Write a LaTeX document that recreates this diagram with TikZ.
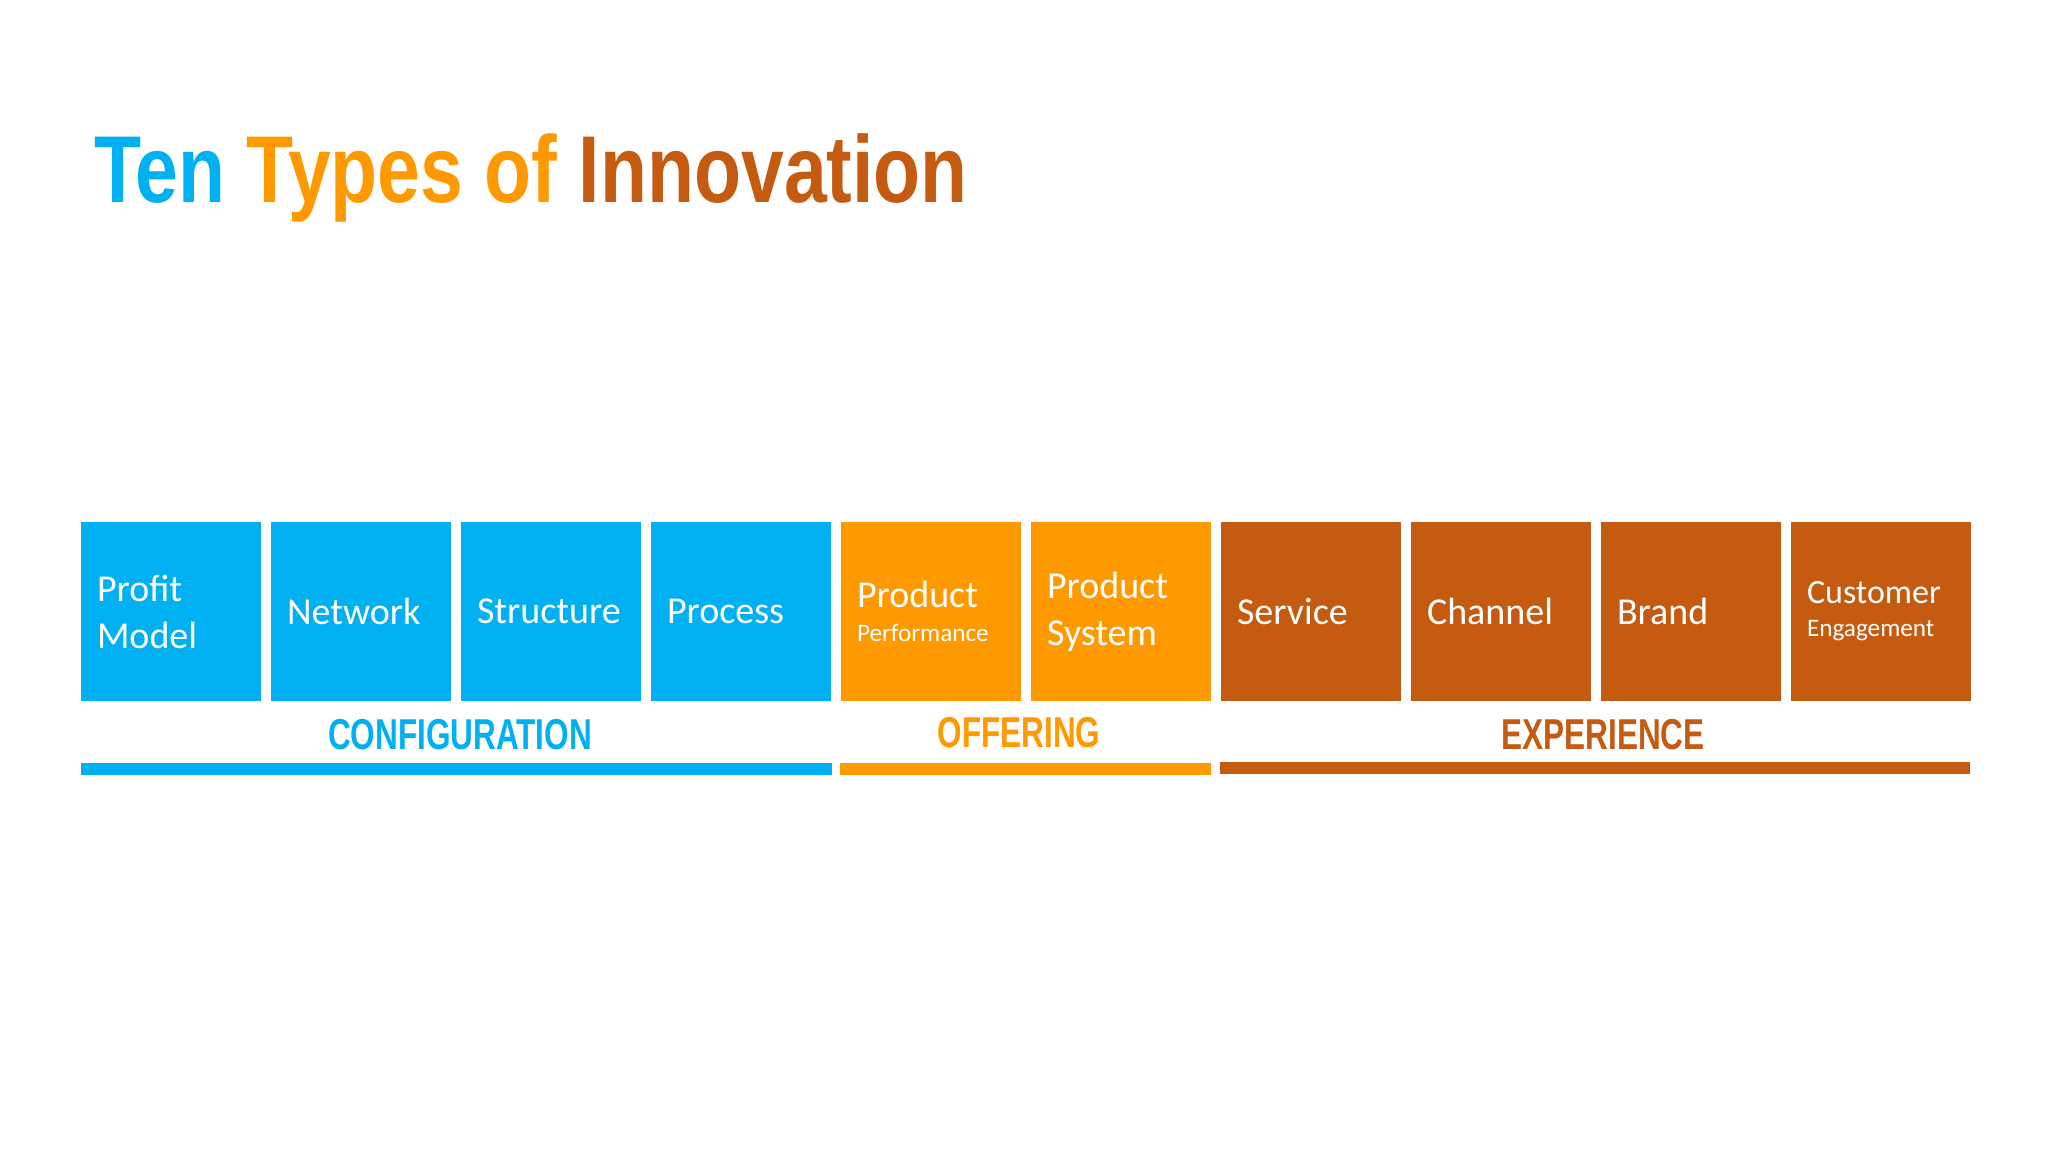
\documentclass[tikz,border=0pt]{standalone}
\usepackage{fontspec}
\setmainfont{Carlito}
\newfontfamily\headfont[FakeStretch=0.81]{Liberation Sans}
\newfontfamily\groupfont[FakeStretch=0.73]{Liberation Sans}

\definecolor{cfgblue}{HTML}{00B0F0}
\definecolor{offorange}{HTML}{FF9900}
\definecolor{expbrown}{HTML}{C55A11}

\tikzset{
  typebox/.style={minimum width=90pt, minimum height=89.5pt, text width=74pt,
    inner xsep=8pt, inner ysep=0pt, align=left, text=white,
    font=\fontsize{19}{23.5}\selectfont},
  cfgbox/.style={typebox, fill=cfgblue},
  offbox/.style={typebox, fill=offorange},
  expbox/.style={typebox, fill=expbrown},
  grouplabel/.style={inner sep=0pt, font=\groupfont\bfseries\fontsize{21.6}{26}\selectfont},
}
\newcommand{\smalltype}[1]{{\fontsize{12.6}{15}\selectfont #1}}

\begin{document}
\begin{tikzpicture}[x=0.5pt, y=-0.5pt]
        \useasboundingbox (0,0) rectangle (2048,1152);
        \fill[white] (0,0) rectangle (2048,1152);

        % title
        \node[anchor=base west, inner sep=0pt, font=\headfont\bfseries\fontsize{47.5}{50}\selectfont] (title) at (94,202)
          {\textcolor{cfgblue}{Ten} \textcolor{offorange}{Types of} \textcolor{expbrown}{Innovation}};

        % the ten boxes
        \node[cfgbox] (profit) at (171,611.5) {Profit\\Model};
        \node[cfgbox] (network) at (361,611.5) {Network};
        \node[cfgbox] (structure) at (551,611.5) {Structure};
        \node[cfgbox] (process) at (741,611.5) {Process};
        \node[offbox] (perf) at (931,611.5) {Product\\[-6.5pt]\smalltype{Performance}};
        \node[offbox] (system) at (1121,611.5) {Product\\System};
        \node[expbox] (service) at (1311,611.5) {Service};
        \node[expbox] (channel) at (1501,611.5) {Channel};
        \node[expbox] (brand) at (1691,611.5) {Brand};
        \node[expbox] (engage) at (1881,611.5) {{\fontsize{17}{20}\selectfont Customer}\\[-7pt]\smalltype{Engagement}};

        % group labels
        \node[grouplabel, text=cfgblue] (config) at (460,735) {CONFIGURATION};
        \node[grouplabel, text=offorange] (offer) at (1019,733) {OFFERING};
        \node[grouplabel, text=expbrown] (exper) at (1603,735) {EXPERIENCE};

        % bars
        \fill[cfgblue] (81,763) rectangle (832,775);
        \fill[offorange] (840,763) rectangle (1211,775);
        \fill[expbrown] (1220,762) rectangle (1970,774);
    \end{tikzpicture}
\end{document}
